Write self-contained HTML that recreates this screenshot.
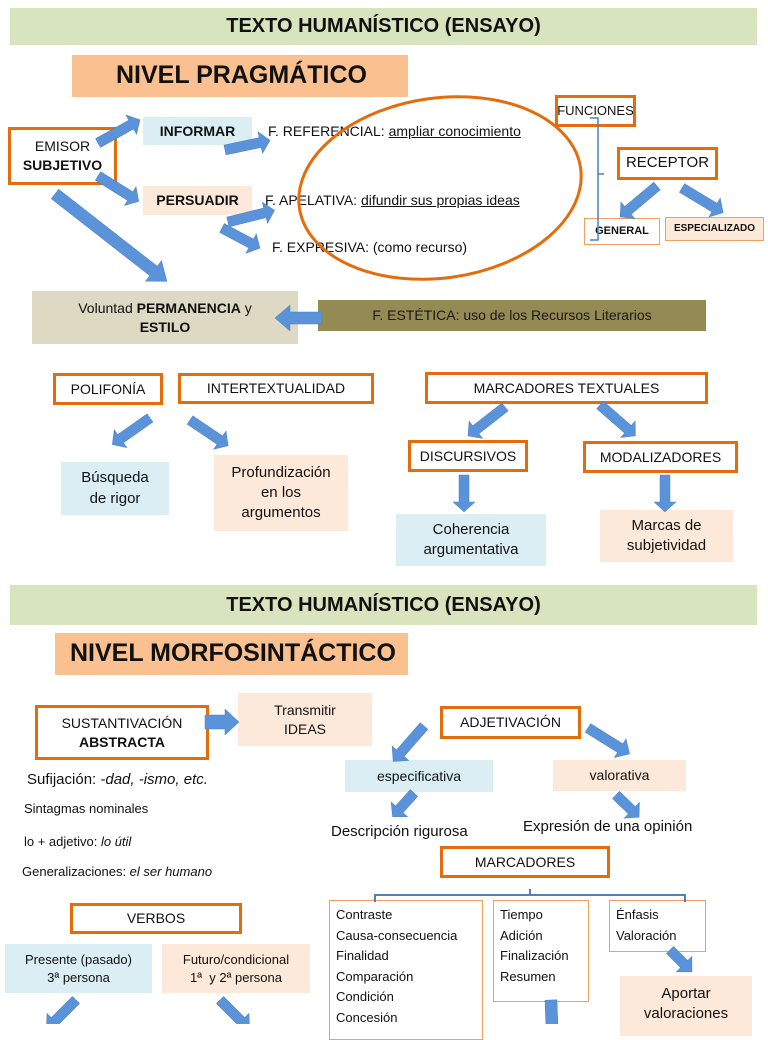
<!DOCTYPE html>
<html><head><meta charset="utf-8"><style>
body{margin:0;width:768px;height:1024px;overflow:hidden;background:#fff;position:relative;font-family:"Liberation Sans",sans-serif;color:#111}
.a{position:absolute;box-sizing:border-box;display:flex;align-items:center;justify-content:center;text-align:center;line-height:1.35}
.o{border:3px solid #e46c0a;background:#fff}
.t{border:1.5px solid #f0a060;background:#fff}
.bl{background:#dbeef4}.pc{background:#fde9d9}
.h{background:#d7e4bd;font-weight:bold;font-size:20px}
.n{background:#fac090;font-weight:bold;font-size:25px;justify-content:flex-start}
.x{position:absolute;white-space:nowrap}
.u{text-decoration:underline}
svg{position:absolute;left:0;top:0}
</style></head><body>
<div class="a h" style="left:10px;top:8px;width:747px;height:37px">TEXTO HUMANÍSTICO (ENSAYO)</div>
<div class="a n" style="left:72px;top:55px;width:336px;height:42px;padding-left:44px">NIVEL PRAGMÁTICO</div>
<div class="a o" style="left:8px;top:127px;width:109px;height:58px;font-size:14px"><span>EMISOR<br><b>SUBJETIVO</b></span></div>
<div class="a bl" style="left:143px;top:117px;width:109px;height:28px;font-size:14px;font-weight:bold">INFORMAR</div>
<div class="a pc" style="left:143px;top:186px;width:109px;height:29px;font-size:14px;font-weight:bold">PERSUADIR</div>
<div class="x" style="left:268px;top:123px;font-size:14px">F. REFERENCIAL: <span class="u">ampliar conocimiento</span></div>
<div class="x" style="left:265px;top:192px;font-size:14px">F. APELATIVA: <span class="u">difundir sus propias ideas</span></div>
<div class="x" style="left:272px;top:239px;font-size:14px">F. EXPRESIVA: (como recurso)</div>
<div class="a o" style="left:555px;top:95px;width:81px;height:32px;font-size:13px">FUNCIONES</div>
<div class="a o" style="left:617px;top:147px;width:101px;height:33px;font-size:15px">RECEPTOR</div>
<div class="a t" style="left:584px;top:218px;width:76px;height:27px;font-size:11px;font-weight:bold">GENERAL</div>
<div class="a t pc" style="left:665px;top:217px;width:99px;height:24px;font-size:10px;font-weight:bold">ESPECIALIZADO</div>
<div class="a" style="left:32px;top:291px;width:266px;height:53px;background:#ddd9c3;font-size:14px"><span>Voluntad <b>PERMANENCIA</b> y<br><b>ESTILO</b></span></div>
<div class="a" style="left:318px;top:300px;width:388px;height:31px;background:#948a54;font-size:14px;color:#1a1a1a">F. ESTÉTICA: uso de los Recursos Literarios</div>
<div class="a o" style="left:53px;top:373px;width:110px;height:32px;font-size:14px">POLIFONÍA</div>
<div class="a o" style="left:178px;top:373px;width:196px;height:31px;font-size:14px">INTERTEXTUALIDAD</div>
<div class="a o" style="left:425px;top:372px;width:283px;height:32px;font-size:14px">MARCADORES TEXTUALES</div>
<div class="a bl" style="left:61px;top:462px;width:108px;height:53px;font-size:15px"><span>Búsqueda<br>de rigor</span></div>
<div class="a pc" style="left:214px;top:455px;width:134px;height:76px;font-size:15px"><span>Profundización<br>en los<br>argumentos</span></div>
<div class="a o" style="left:408px;top:440px;width:120px;height:32px;font-size:14px">DISCURSIVOS</div>
<div class="a o" style="left:583px;top:441px;width:155px;height:32px;font-size:14px">MODALIZADORES</div>
<div class="a bl" style="left:396px;top:514px;width:150px;height:52px;font-size:15px"><span>Coherencia<br>argumentativa</span></div>
<div class="a pc" style="left:600px;top:510px;width:133px;height:52px;font-size:15px"><span>Marcas de<br>subjetividad</span></div>

<div class="a h" style="left:10px;top:585px;width:747px;height:40px">TEXTO HUMANÍSTICO (ENSAYO)</div>
<div class="a n" style="left:55px;top:633px;width:353px;height:42px;padding-left:15px">NIVEL MORFOSINTÁCTICO</div>
<div class="a o" style="left:35px;top:705px;width:174px;height:55px;font-size:14px"><span>SUSTANTIVACIÓN<br><b>ABSTRACTA</b></span></div>
<div class="a pc" style="left:238px;top:693px;width:134px;height:53px;font-size:14px"><span>Transmitir<br>IDEAS</span></div>
<div class="a o" style="left:440px;top:706px;width:141px;height:33px;font-size:14px">ADJETIVACIÓN</div>
<div class="a bl" style="left:345px;top:760px;width:148px;height:32px;font-size:14px">especificativa</div>
<div class="a pc" style="left:553px;top:760px;width:133px;height:31px;font-size:14px">valorativa</div>
<div class="x" style="left:331px;top:823px;font-size:15px">Descripción rigurosa</div>
<div class="x" style="left:523px;top:818px;font-size:15px">Expresión de una opinión</div>
<div class="x" style="left:27px;top:771px;font-size:15px">Sufijación: <i>-dad, -ismo, etc.</i></div>
<div class="x" style="left:24px;top:801px;font-size:13px">Sintagmas nominales</div>
<div class="x" style="left:24px;top:834px;font-size:13px">lo + adjetivo: <i>lo útil</i></div>
<div class="x" style="left:22px;top:864px;font-size:13px">Generalizaciones: <i>el ser humano</i></div>
<div class="a o" style="left:440px;top:846px;width:170px;height:32px;font-size:14px">MARCADORES</div>
<div class="a o" style="left:70px;top:903px;width:172px;height:31px;font-size:14px">VERBOS</div>
<div class="a bl" style="left:5px;top:944px;width:147px;height:49px;font-size:13px"><span>Presente (pasado)<br>3ª persona</span></div>
<div class="a pc" style="left:162px;top:944px;width:148px;height:49px;font-size:13px"><span>Futuro/condicional<br>1ª &nbsp;y 2ª persona</span></div>
<div class="a t" style="left:329px;top:900px;width:154px;height:140px;font-size:13px;display:block;text-align:left;padding:4px 6px;line-height:20.5px">Contraste<br>Causa-consecuencia<br>Finalidad<br>Comparación<br>Condición<br>Concesión</div>
<div class="a t" style="left:493px;top:900px;width:96px;height:102px;font-size:13px;display:block;text-align:left;padding:4px 6px;line-height:20.5px">Tiempo<br>Adición<br>Finalización<br>Resumen</div>
<div class="a t" style="left:609px;top:900px;width:97px;height:52px;font-size:13px;display:block;text-align:left;padding:4px 6px;line-height:20.5px">Énfasis<br>Valoración</div>
<div class="a pc" style="left:620px;top:976px;width:132px;height:60px;font-size:15px;align-items:flex-start;padding-top:8px"><span>Aportar<br>valoraciones</span></div>

<svg width="768" height="1024" viewBox="0 0 768 1024">
<ellipse cx="440" cy="188" rx="142" ry="90" transform="rotate(-8 440 188)" fill="none" stroke="#e46c0a" stroke-width="3"/>
<path d="M590,118 h8 v56 h6 M598,174 v66 h-8" fill="none" stroke="#4f81bd" stroke-width="1.5"/>
<path d="M375,902 v-7 h155 v-6 v6 h155 v7" fill="none" stroke="#4f81bd" stroke-width="2"/>
<g fill="#5b93da" stroke="#4a7fc4" stroke-width="0.5">
<g transform="translate(98,143) rotate(-29)"><polygon points="0,-5 38,-5 38,-11 48,0 38,11 38,5 0,5"/></g>
<g transform="translate(98,176) rotate(32)"><polygon points="0,-5 38,-5 38,-11 48,0 38,11 38,5 0,5"/></g>
<g transform="translate(225,150) rotate(-12)"><polygon points="0,-5 36,-5 36,-11 46,0 36,11 36,5 0,5"/></g>
<g transform="translate(228,222) rotate(-14)"><polygon points="0,-5 38,-5 38,-11 48,0 38,11 38,5 0,5"/></g>
<g transform="translate(222,228) rotate(28)"><polygon points="0,-5 33,-5 33,-11 43,0 33,11 33,5 0,5"/></g>
<g transform="translate(55,194) rotate(38)"><polygon points="0,-6 125,-6 125,-13 142,0 125,13 125,6 0,6"/></g>
<g transform="translate(322,318) rotate(180)"><polygon points="0,-6 32,-6 32,-13 47,0 32,13 32,6 0,6"/></g>
<g transform="translate(657,186) rotate(140)"><polygon points="0,-5 38,-5 38,-11 48,0 38,11 38,5 0,5"/></g>
<g transform="translate(682,188) rotate(31)"><polygon points="0,-5 38,-5 38,-11 48,0 38,11 38,5 0,5"/></g>
<g transform="translate(150,418) rotate(145)"><polygon points="0,-5 36,-5 36,-11 46,0 36,11 36,5 0,5"/></g>
<g transform="translate(190,420) rotate(34)"><polygon points="0,-5 36,-5 36,-11 46,0 36,11 36,5 0,5"/></g>
<g transform="translate(505,407) rotate(142)"><polygon points="0,-5 37,-5 37,-11 47,0 37,11 37,5 0,5"/></g>
<g transform="translate(600,405) rotate(41)"><polygon points="0,-5 37,-5 37,-11 47,0 37,11 37,5 0,5"/></g>
<g transform="translate(464,475) rotate(90)"><polygon points="0,-5 27,-5 27,-11 37,0 27,11 27,5 0,5"/></g>
<g transform="translate(665,475) rotate(90)"><polygon points="0,-5 27,-5 27,-11 37,0 27,11 27,5 0,5"/></g>
<g transform="translate(205,722) rotate(0)"><polygon points="0,-7 20,-7 20,-13 34,0 20,13 20,7 0,7"/></g>
<g transform="translate(424,726) rotate(131)"><polygon points="0,-5 36,-5 36,-11 47,0 36,11 36,5 0,5"/></g>
<g transform="translate(588,728) rotate(32)"><polygon points="0,-5 38,-5 38,-11 49,0 38,11 38,5 0,5"/></g>
<g transform="translate(414,793) rotate(132)"><polygon points="0,-5 22,-5 22,-11 32,0 22,11 22,5 0,5"/></g>
<g transform="translate(616,795) rotate(44)"><polygon points="0,-5 22,-5 22,-11 32,0 22,11 22,5 0,5"/></g>
<g transform="translate(670,950) rotate(45)"><polygon points="0,-5 20,-5 20,-11 31,0 20,11 20,5 0,5"/></g>
<g transform="translate(76,1000) rotate(135)"><polygon points="0,-5 30,-5 30,-11 42,0 30,11 30,5 0,5"/></g>
<g transform="translate(220,1000) rotate(45)"><polygon points="0,-5 30,-5 30,-11 42,0 30,11 30,5 0,5"/></g>
<g transform="translate(551,1000) rotate(88)"><polygon points="0,-6 30,-6 30,-12 42,0 30,12 30,6 0,6"/></g>
</g>
</svg>
</body></html>
